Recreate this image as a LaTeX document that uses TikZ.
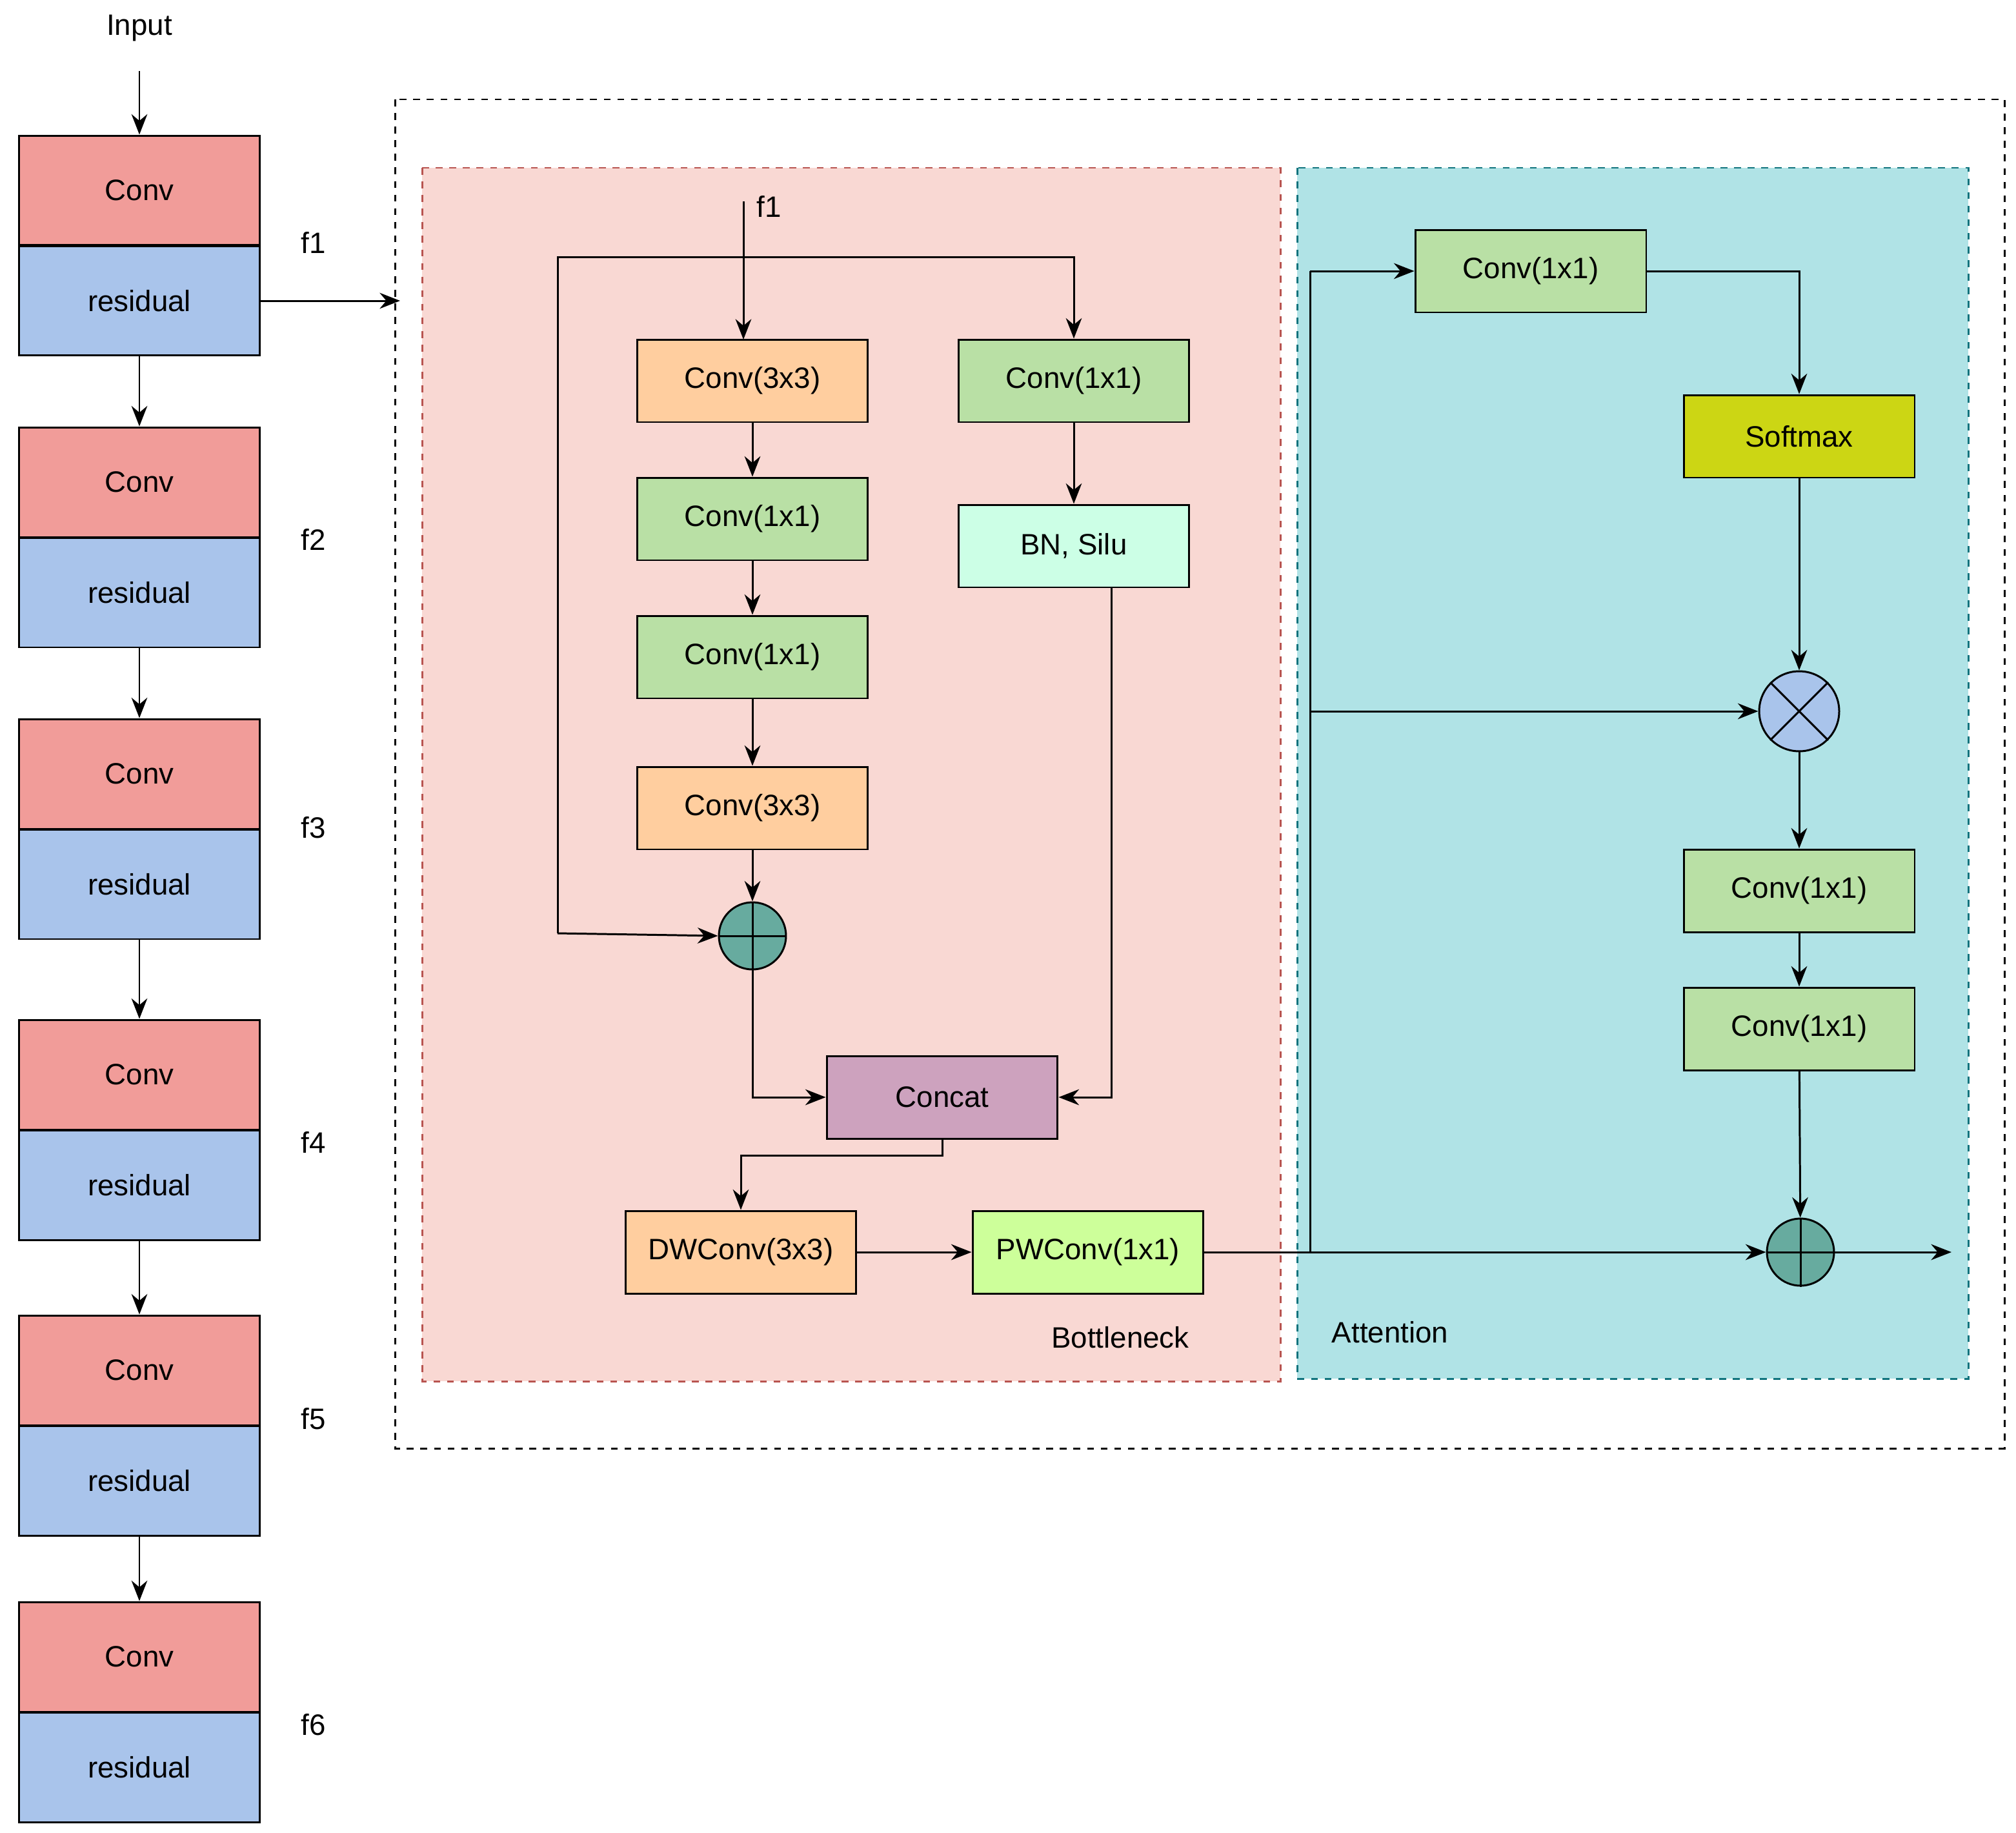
\documentclass[tikz,border=0pt]{standalone}
\usepackage{fontspec}
\setmainfont{Liberation Sans}
\usetikzlibrary{arrows.meta}
\definecolor{convred}{RGB}{241,156,153}
\definecolor{resblue}{RGB}{169,196,235}
\definecolor{cgreen}{RGB}{185,224,165}
\definecolor{corange}{RGB}{255,206,159}
\definecolor{bnmint}{RGB}{204,255,230}
\definecolor{cpurple}{RGB}{205,162,190}
\definecolor{clime}{RGB}{205,255,154}
\definecolor{csoft}{RGB}{204,214,20}
\definecolor{bneck}{RGB}{249,216,211}
\definecolor{bneckb}{RGB}{184,84,80}
\definecolor{attn}{RGB}{176,227,230}
\definecolor{attnb}{RGB}{16,115,125}
\definecolor{opteal}{RGB}{103,171,159}
\tikzset{
  line/.style={line width=0.85pt},
  arr/.style={line, -{Stealth[length=9pt,width=7pt]}},
  box/.style={draw, line width=0.85pt, minimum width=3.58cm, minimum height=1.28cm, inner sep=0pt, font=\fontsize{13}{15}\selectfont},
  lbox/.style={box, minimum width=3.74cm, minimum height=1.7cm},
  op/.style={draw, line width=0.85pt, circle, inner sep=0pt, minimum size=1.04cm},
  lbl/.style={font=\fontsize{13}{15}\selectfont}
}
\begin{document}
\begin{tikzpicture}[x=0.02cm,y=-0.02cm]
	\useasboundingbox (0,0) rectangle (1562,1420);
	% frames
	\draw[line, dashed] (306,77) rectangle (1553,1122);
	\draw[line, dashed, draw=bneckb, fill=bneck] (327,130) rectangle (992,1070);
	\draw[line, dashed, draw=attnb, fill=attn] (1005,130) rectangle (1525,1068);
	\node[lbl] (bnlabel) at (868,1036) {Bottleneck};
	\node[lbl] (atlabel) at (1077,1032) {Attention};
	% backbone
	\node[lbl] (input) at (108,22) {Input};
	\foreach \t/\i/\fy in {105/1/188,331/2/418,557/3/641,790/4/885,1019/5/1099,1241/6/1336} {
		\node[lbox, fill=convred] (conv\i) at (108,\t+42.5) {Conv};
		\node[lbox, fill=resblue] (res\i) at (108,\t+128) {residual};
		\node[lbl] (f\i) at (243,\fy) {f\i};
	}
	\coordinate (inp) at (108,55);
	\draw[arr] (inp) -- (conv1);
	\foreach \a/\b in {1/2,2/3,3/4,4/5,5/6}
		\draw[arr] (res\a) -- (conv\b);
	\coordinate (fin) at (310,233);
	\draw[arr] (res1) -- (fin);
	% bottleneck
	\node[lbl] (bf1) at (596,160) {f1};
	\coordinate (ftop) at (576,156);
	\node[box, fill=corange] (ca) at (583,295) {Conv(3x3)};
	\node[box, fill=cgreen] (cb) at (583,402) {Conv(1x1)};
	\node[box, fill=cgreen] (cc) at (583,509) {Conv(1x1)};
	\node[box, fill=corange] (cd) at (583,626) {Conv(3x3)};
	\node[box, fill=cgreen] (ce) at (832,295) {Conv(1x1)};
	\node[box, fill=bnmint] (bn) at (832,423) {BN, Silu};
	\node[op, fill=opteal] (add1) at (583,725) {};
	\draw[line] (add1.north) -- (add1.south) (add1.west) -- (add1.east);
	\node[box, fill=cpurple] (cat) at (730,850) {Concat};
	\node[box, fill=corange] (dw) at (574,970) {DWConv(3x3)};
	\node[box, fill=clime] (pw) at (843,970) {PWConv(1x1)};
	\draw[arr] (ftop) -- (576,263);
	\draw[arr] (432,723) -- (432,199) -- (832,199) -- (ce.north);
	\draw[arr] (432,723) -- (add1.west);
	\draw[arr] (ca) -- (cb);
	\draw[arr] (cb) -- (cc);
	\draw[arr] (cc) -- (cd);
	\draw[arr] (cd) -- (add1);
	\draw[arr] (ce) -- (bn);
	\draw[arr] (861,455) -- (861,850) -- (cat.east);
	\draw[arr] (add1.south) -- (583,850) -- (cat.west);
	\draw[arr] (cat.south) -- (730,895) -- (574,895) -- (dw.north);
	\draw[arr] (dw) -- (pw);
	% attention
	\node[box, fill=cgreen] (aa) at (1186,210) {Conv(1x1)};
	\node[box, fill=csoft] (sm) at (1394,338) {Softmax};
	\node[op, fill=resblue, minimum size=1.24cm] (mul) at (1394,551) {};
	\draw[line] (mul.north east) -- (mul.south west) (mul.north west) -- (mul.south east);
	\node[box, fill=cgreen] (ab) at (1394,690) {Conv(1x1)};
	\node[box, fill=cgreen] (ac) at (1394,797) {Conv(1x1)};
	\node[op, fill=opteal] (add2) at (1395,970) {};
	\draw[line] (add2.north) -- (add2.south) (add2.west) -- (add2.east);
	\coordinate (out) at (1512,970);
	\draw[line] (pw.east) -- (1015,970) -- (1015,210);
	\draw[arr] (1015,210) -- (aa.west);
	\draw[arr] (1015,970) -- (add2.west);
	\draw[arr] (1015,551) -- (mul.west);
	\draw[arr] (aa.east) -- (1394,210) -- (sm.north);
	\draw[arr] (sm) -- (mul);
	\draw[arr] (mul) -- (ab);
	\draw[arr] (ab) -- (ac);
	\draw[arr] (ac) -- (add2);
	\draw[arr] (add2) -- (out);
\end{tikzpicture}
\end{document}
